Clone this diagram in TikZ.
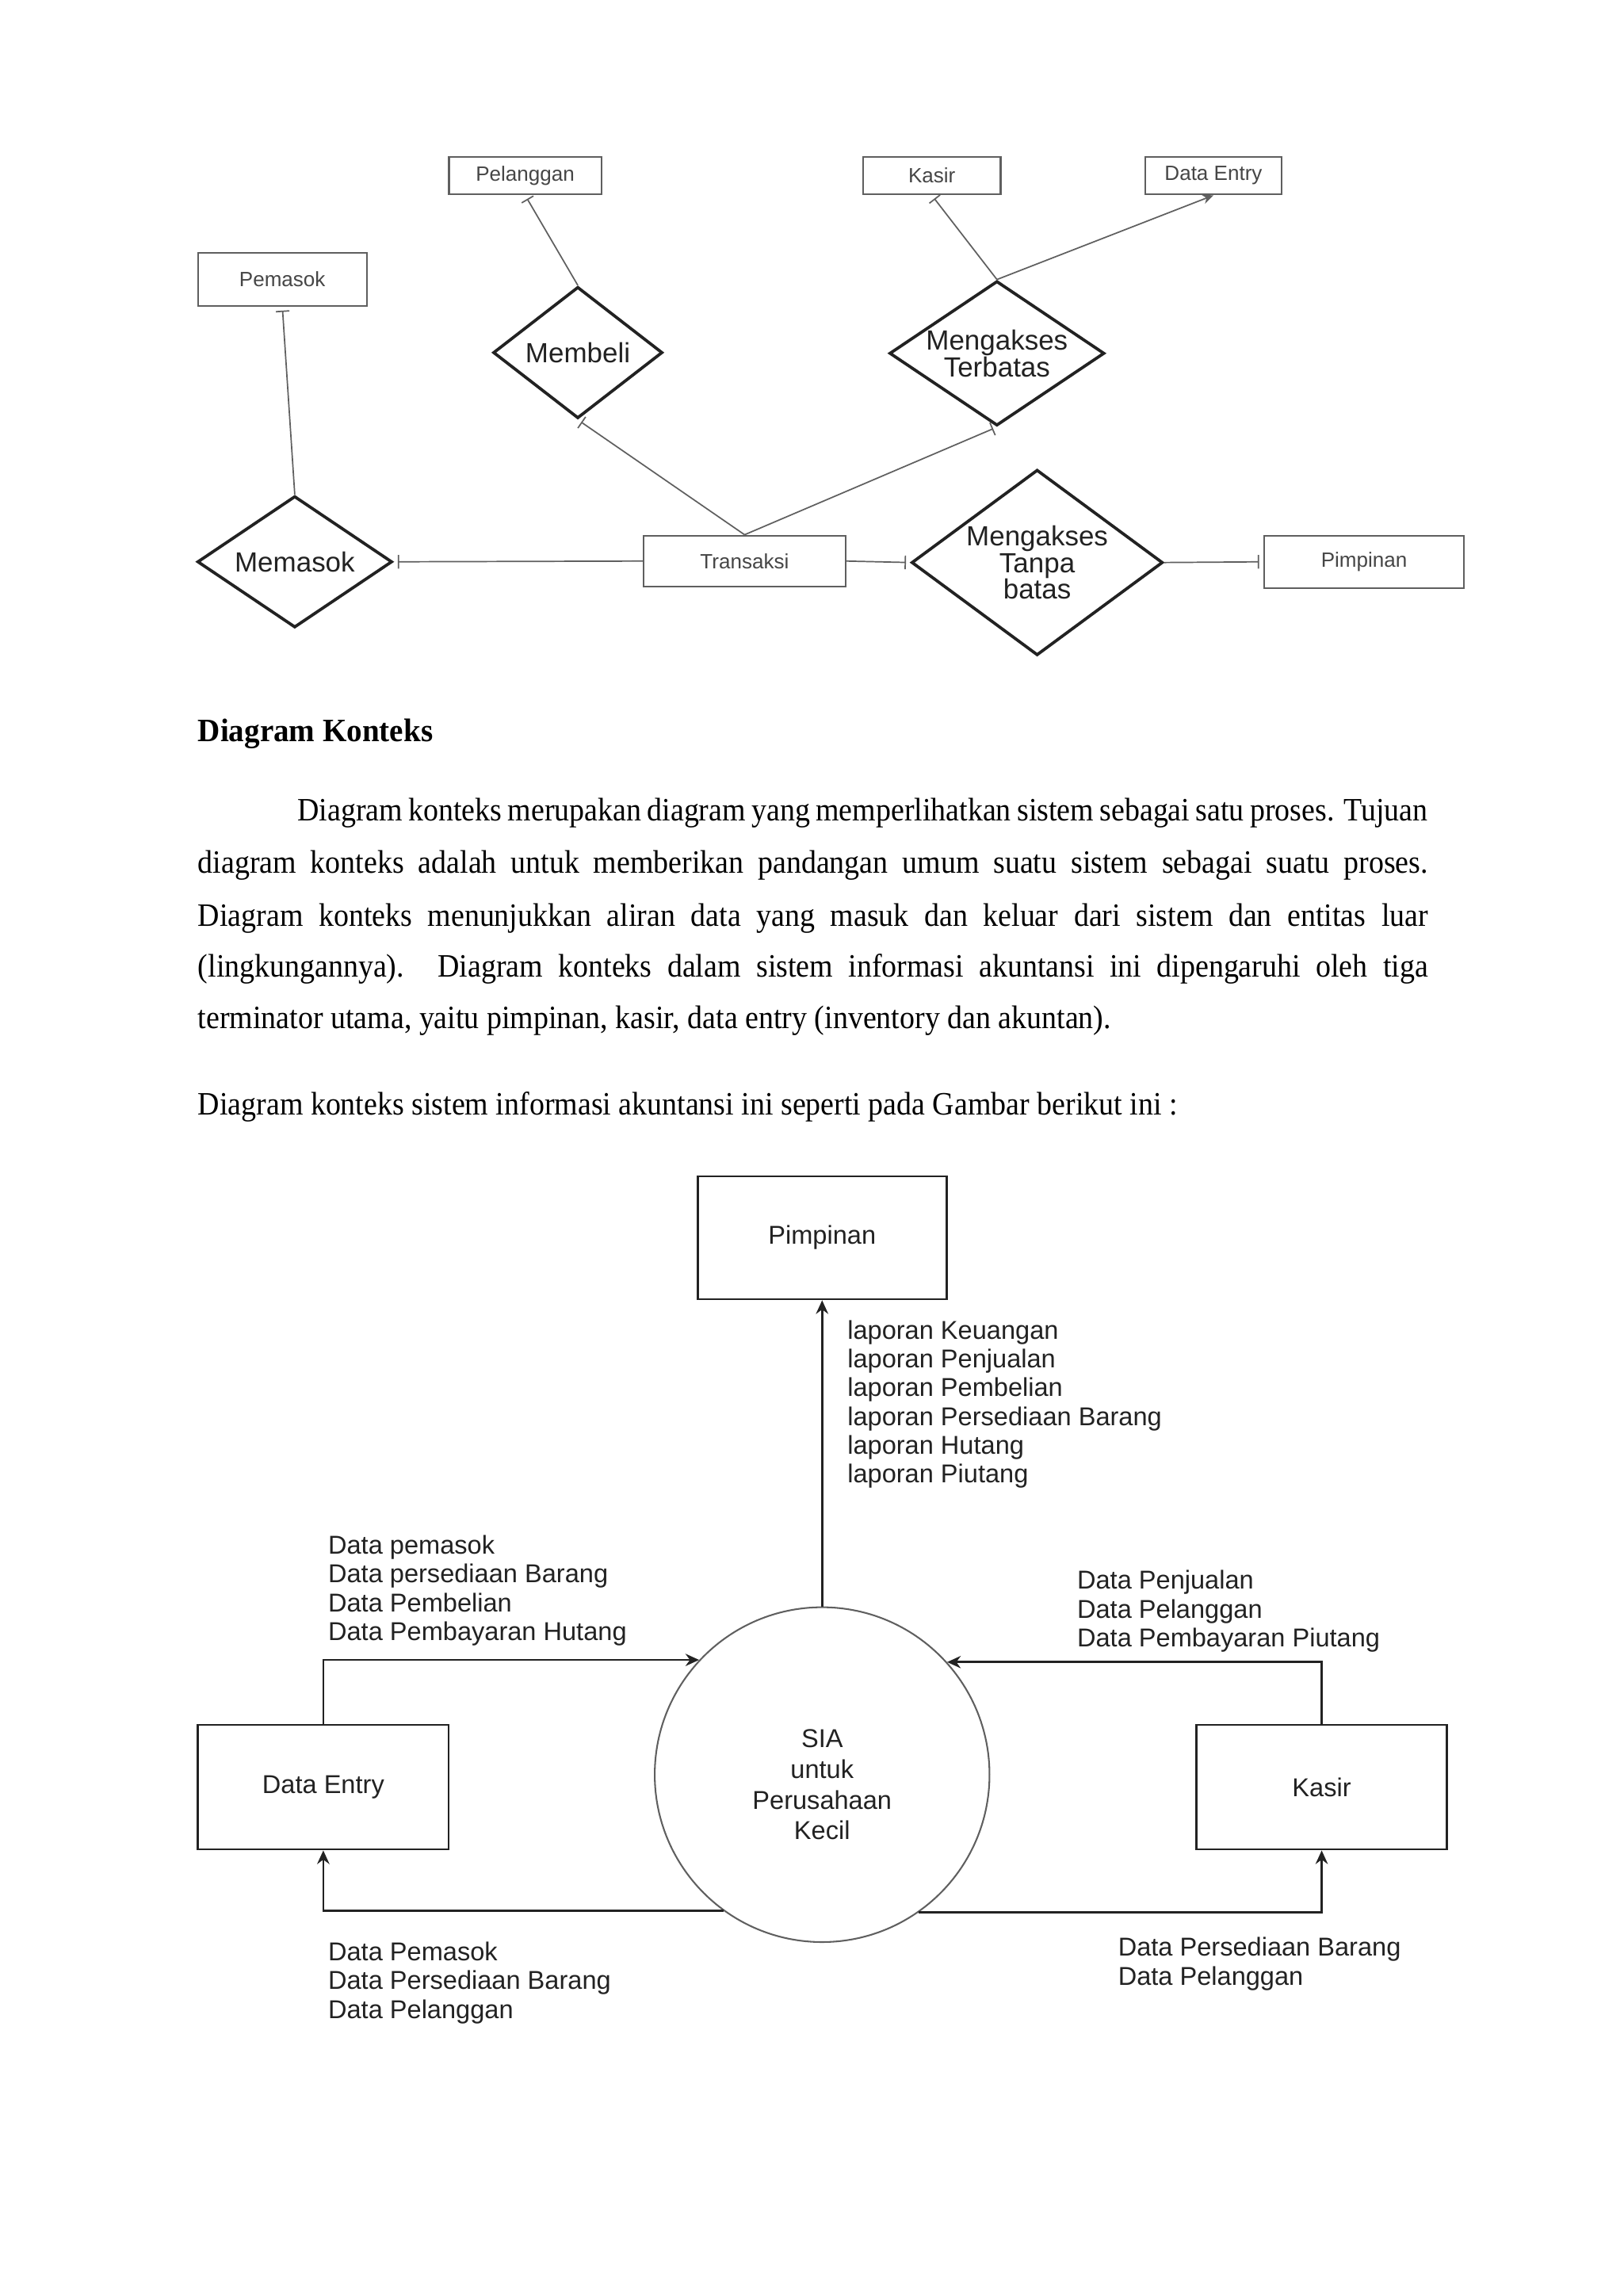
\documentclass[tikz,border=0pt]{standalone}
\usepackage{fontspec}
\usepackage{xcolor}
\usepackage{tikz}
\usetikzlibrary{shapes.geometric, arrows.meta, positioning, calc}
\newfontfamily\bodyfont{Liberation Serif}[FakeStretch=0.922, BoldFeatures={FakeStretch=0.95}]
\newfontfamily\diagfont{Liberation Sans}
\definecolor{inkdark}{RGB}{34, 34, 34}
\definecolor{inkgrey}{RGB}{70, 70, 70}
\definecolor{linegrey}{RGB}{95, 95, 95}
\tikzset{
  entitybox/.style={
    rectangle, draw=linegrey, line width=0.6pt, inner sep=0pt,
    text=inkgrey, font=\diagfont\fontsize{7.6}{9}\selectfont
  },
  relbox/.style={
    diamond, draw=inkdark, line width=1.1pt, inner sep=-1.5pt,
    align=center, text=inkdark, font=\diagfont\fontsize{10.2}{9.8}\selectfont
  },
  erline/.style={draw=linegrey, line width=0.5pt},
  tickstart/.style={erline, {Bar[width=5pt]}-, shorten <=1.5pt},
  tickend/.style={erline, -{Bar[width=5pt]}, shorten >=1.5pt},
  termbox/.style={
    rectangle, draw=inkdark, line width=0.8pt,
    minimum width=3.24cm, minimum height=1.61cm,
    text=inkdark, font=\diagfont\fontsize{9.5}{11}\selectfont
  },
  procnode/.style={
    circle, draw=linegrey, line width=0.6pt, minimum size=4.33cm, inner sep=0pt,
    align=center, text=inkdark, font=\diagfont\fontsize{9.5}{11.3}\selectfont
  },
  flowline/.style={
    draw=inkdark, line width=0.8pt, -{Stealth[length=5pt, width=4.5pt]}
  },
  flowlabel/.style={
    anchor=north west, align=left, inner sep=0pt,
    text=inkdark, font=\diagfont\fontsize{9.5}{10.6}\selectfont
  },
  bodytext/.style={anchor=base west, inner sep=0pt, font=\bodyfont\fontsize{12}{14}\selectfont}
}

\begin{document}
\begin{tikzpicture}[x=0.018919cm, y=-0.018919cm]

  \path[use as bounding box, fill=white] (0,0) rectangle (1110,1568);

  % ER diagram: entities
  \node[entitybox, minimum width=2.18cm, minimum height=0.68cm] (pemasok) at (193,191) {Pemasok};
  \node[entitybox, minimum width=1.97cm, minimum height=0.49cm] (pelanggan) at (359,120) {Pelanggan};
  \node[entitybox, minimum width=1.78cm, minimum height=0.49cm] (kasir) at (637,120) {Kasir};
  \node[entitybox, minimum width=1.76cm, minimum height=0.49cm] (dataentry) at (829.5,120) {Data Entry};
  \node[entitybox, minimum width=2.61cm, minimum height=0.66cm] (transaksi) at (509,383.5) {Transaksi};
  \node[entitybox, minimum width=2.59cm, minimum height=0.68cm] (pimpinan) at (932.5,384) {Pimpinan};

  % ER diagram: relations
  \node[relbox, aspect=1.29, minimum width=2.19cm, minimum height=1.70cm] (membeli) at (395,241) {Membeli};
  \node[relbox, aspect=1.48, minimum width=2.78cm, minimum height=1.87cm] (terbatas) at (681.5,241.5) {Mengakses\\Terbatas};
  \node[relbox, aspect=1.48, minimum width=2.52cm, minimum height=1.70cm] (memasok) at (201.5,384) {Memasok};
  \node[relbox, aspect=1.35, minimum width=3.25cm, minimum height=2.40cm] (tanpabatas) at (709,384.5) {Mengakses\\Tanpa\\batas};

  % ER diagram: links
  \draw[tickstart] (pemasok.south) -- (memasok.north);
  \draw[tickstart] (pelanggan.south) -- (membeli.north);
  \draw[tickstart] (membeli.south) -- (transaksi.north);
  \draw[tickstart] (kasir.south) -- (terbatas.north);
  \draw[erline, -{Stealth[length=4pt, width=3.5pt]}] (terbatas.north) -- (dataentry.south);
  \draw[tickstart] (terbatas.south) -- (transaksi.north);
  \draw[tickstart] (memasok.east) -- (transaksi.west);
  \draw[tickend] (transaksi.east) -- (tanpabatas.west);
  \draw[tickend] (tanpabatas.east) -- (pimpinan.west);

  % Text between the diagrams
  \node[bodytext, font=\bodyfont\bfseries\fontsize{12}{14}\selectfont] (heading) at (135,507) {Diagram Konteks};
  \node[bodytext] (line1) at (203,561) {\makebox[14.62cm][s]{Diagram konteks merupakan diagram yang memperlihatkan sistem sebagai satu proses. Tujuan}};
  \node[bodytext] (line2) at (135,597) {\makebox[15.91cm][s]{diagram konteks adalah untuk memberikan pandangan umum suatu sistem sebagai suatu proses.}};
  \node[bodytext] (line3) at (135,633) {\makebox[15.91cm][s]{Diagram konteks menunjukkan aliran data yang masuk dan keluar dari sistem dan entitas luar}};
  \node[bodytext] (line4) at (135,668) {\makebox[15.91cm][s]{(lingkungannya). Diagram konteks dalam sistem informasi akuntansi ini dipengaruhi oleh tiga}};
  \node[bodytext] (line5) at (135,703) {terminator utama, yaitu pimpinan, kasir, data entry (inventory dan akuntan).};
  \node[bodytext] (line6) at (135,762) {Diagram konteks sistem informasi akuntansi ini seperti pada Gambar berikut ini :};

  % Context diagram
  \node[termbox, minimum width=3.22cm, minimum height=1.59cm] (pimpinanctx) at (562,846) {Pimpinan};
  \node[procnode] (sia) at (562,1213) {\rule{0pt}{14pt}SIA\\untuk\\Perusahaan\\Kecil};
  \node[termbox] (dataentryctx) at (221,1221.5) {Data Entry};
  \node[termbox] (kasirctx) at (903.5,1221.5) {Kasir};

  \draw[flowline] (sia.north) -- (pimpinanctx.south);
  \draw[flowline] (dataentryctx.north) |- (sia.137.7);
  \draw[flowline] (kasirctx.north) |- (sia.42.3);
  \draw[flowline] (sia.234.3) -| (dataentryctx.south);
  \draw[flowline] (sia.305.7) -| (kasirctx.south);

  \node[flowlabel] (lapor) at (579,902) {laporan Keuangan\\laporan Penjualan\\laporan Pembelian\\laporan Persediaan Barang\\laporan Hutang\\laporan Piutang};
  \node[flowlabel] (deinput) at (224,1049) {Data pemasok\\Data persediaan Barang\\Data Pembelian\\Data Pembayaran Hutang};
  \node[flowlabel] (ksinput) at (736,1073) {Data Penjualan\\Data Pelanggan\\Data Pembayaran Piutang};
  \node[flowlabel] (deoutput) at (224,1327) {Data Pemasok\\Data Persediaan Barang\\Data Pelanggan};
  \node[flowlabel] (ksoutput) at (764,1324) {Data Persediaan Barang\\Data Pelanggan};

\end{tikzpicture}
\end{document}
